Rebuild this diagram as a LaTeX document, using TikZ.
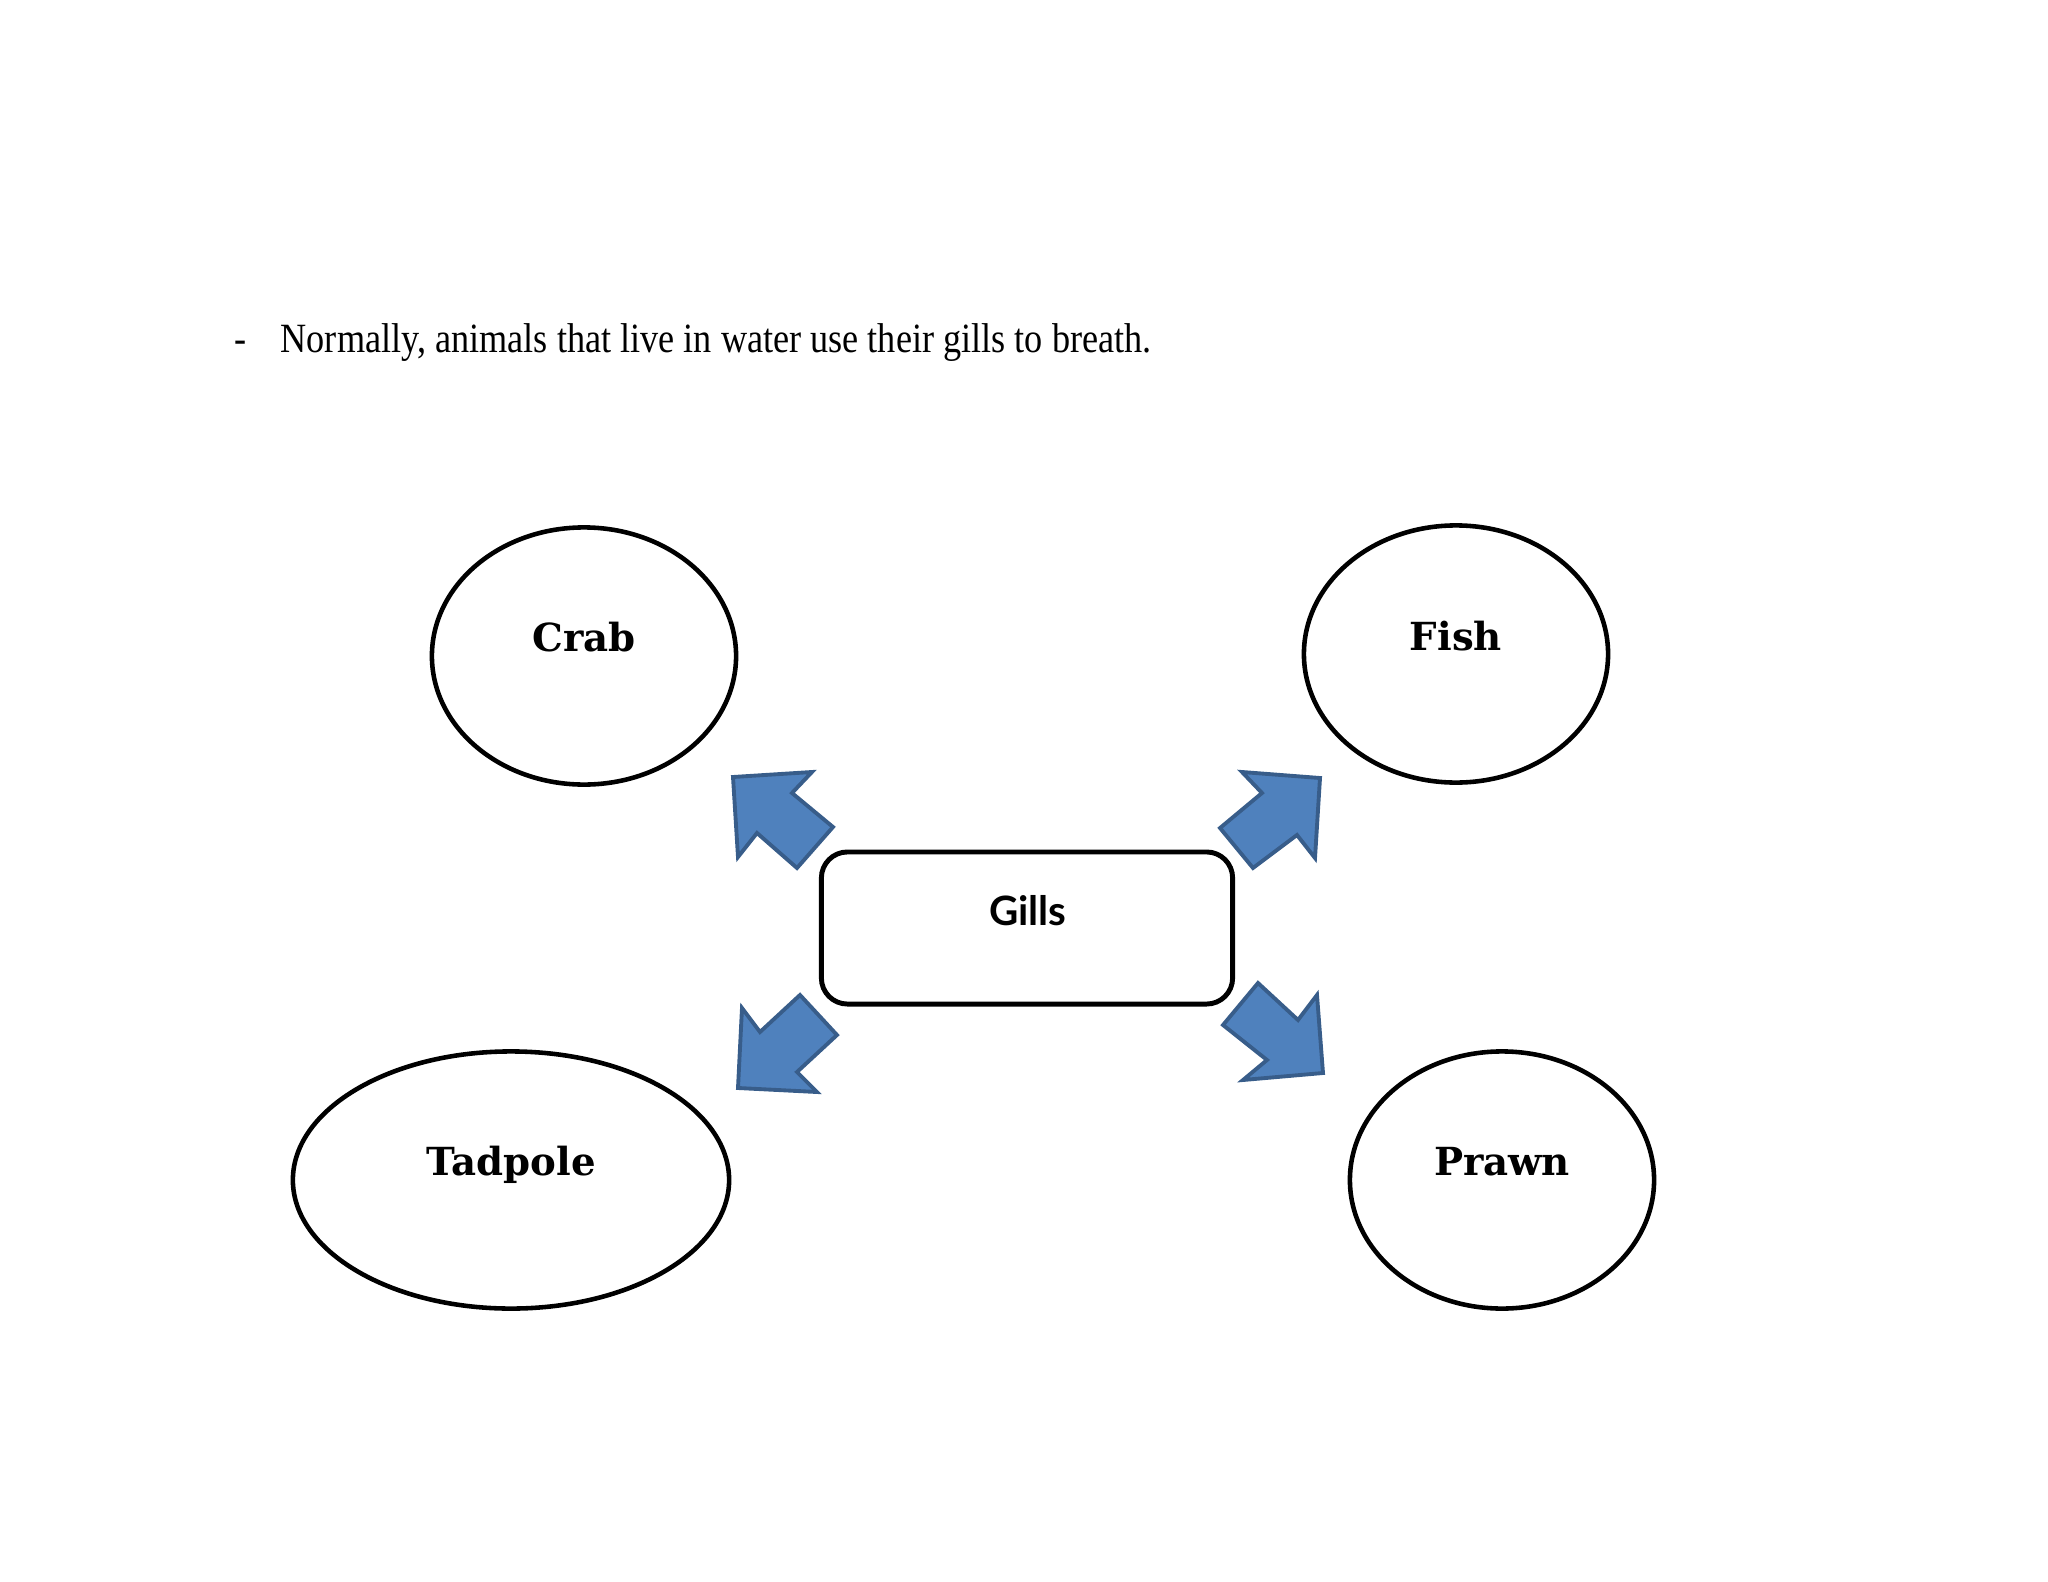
\documentclass[tikz,border=0pt]{standalone}
\usepackage{fontspec}
\setmainfont{Liberation Serif}
\newfontfamily\animalfont{DejaVu Serif}
\newfontfamily\gillsfont{Lato}
\usetikzlibrary{shapes.geometric}
\definecolor{arrowblue}{HTML}{4F81BD}
\definecolor{arrowedge}{HTML}{385D8A}

\begin{document}
\begin{tikzpicture}[x=0.01cm, y=-0.01cm, every node/.style={inner sep=0pt},
    blob/.style={ellipse, draw, line width=1.3pt, minimum width=3.04cm, minimum height=2.57cm},
    animal/.style={anchor=base, font=\animalfont\bfseries\fontsize{11}{13}\selectfont},
    blockarrow/.style={fill=arrowblue, draw=arrowedge, line width=1.1pt}]
  \useasboundingbox (0,0) rectangle (2048,1582);

  % the sentence above the diagram
  \node[anchor=base west] (dash) at (234,353) {\fontsize{10.3}{12}\selectfont\scalebox{1}[1.15]{-}};
  \node[anchor=base west] (sentence) at (280,353) {\fontsize{10.3}{12}\selectfont\scalebox{1}[1.15]{Normally, animals that live in water use their gills to breath.}};

  % centre box
  \node[draw, line width=1.4pt, rounded corners=0.26cm, minimum width=4.11cm, minimum height=1.52cm] (gills) at (1027,928) {};
  \node[anchor=base, font=\gillsfont\bfseries\fontsize{11.5}{13}\selectfont] (gillstxt) at (1028,925) {Gills};

  % the four animals
  \node[blob] (crab) at (584,656) {};
  \node[animal] (crabtxt) at (584,651) {Crab};

  \node[blob] (fish) at (1456,654) {};
  \node[animal] (fishtxt) at (1456,650) {Fish};

  \node[blob, minimum width=4.36cm] (tadpole) at (511,1180) {};
  \node[animal] (tadpoletxt) at (511,1175) {Tadpole};

  \node[blob] (prawn) at (1502,1180) {};
  \node[animal] (prawntxt) at (1502,1175) {Prawn};

  % block arrows
  \draw[blockarrow] (733,777) -- (812,772) -- (792,793) -- (833,827) -- (797,868) -- (757,833) -- (738,857) -- cycle;
  \draw[blockarrow] (1320,778) -- (1242,772) -- (1262,793) -- (1220,828) -- (1253,868) -- (1297,835) -- (1315,858) -- cycle;
  \draw[blockarrow] (738,1088) -- (742,1008) -- (760,1032) -- (800,995) -- (837,1035) -- (797,1072) -- (817,1092) -- cycle;
  \draw[blockarrow] (1323,1073) -- (1317,995) -- (1298,1020) -- (1258,983) -- (1223,1025) -- (1267,1060) -- (1243,1080) -- cycle;
\end{tikzpicture}
\end{document}
